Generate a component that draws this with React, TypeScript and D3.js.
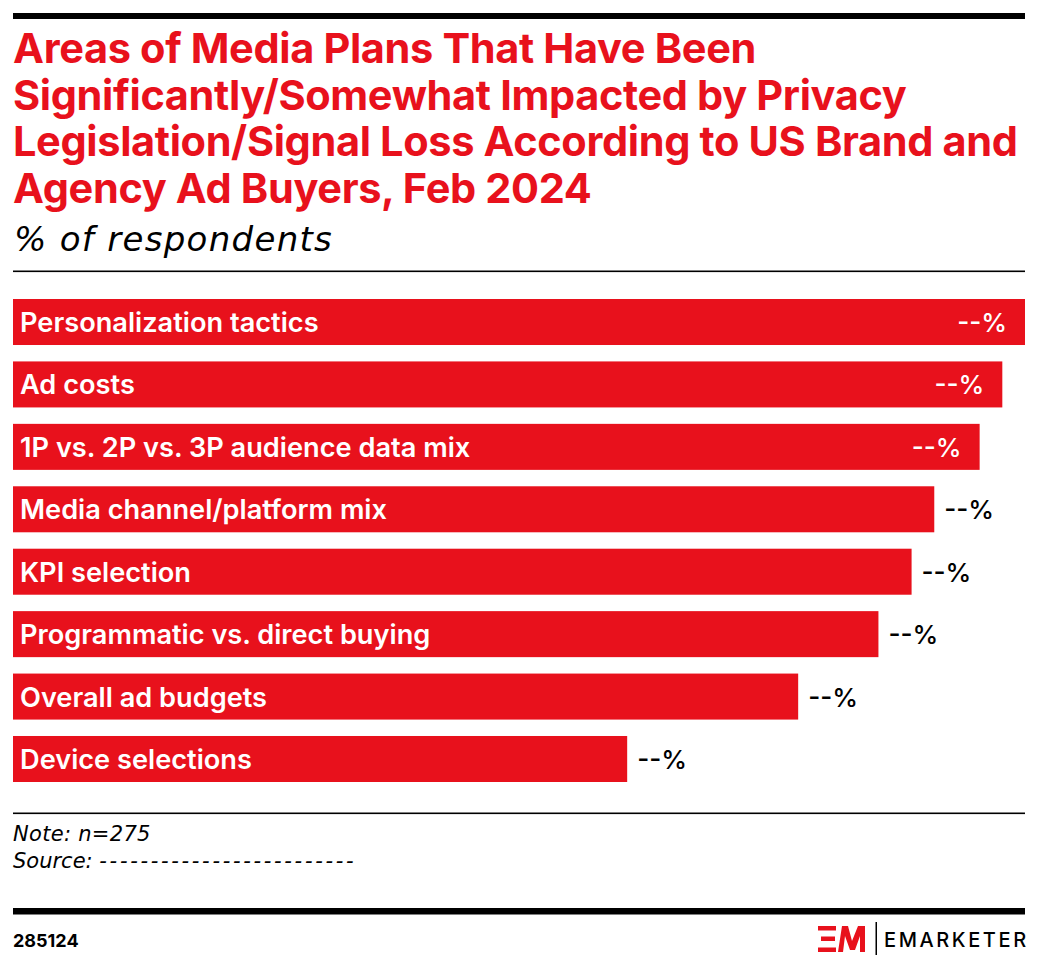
import * as d3 from "d3";

const RED = "#e8111c";

const titleLines = [
  "Areas of Media Plans That Have Been",
  "Significantly/Somewhat Impacted by Privacy",
  "Legislation/Signal Loss According to US Brand and",
  "Agency Ad Buyers, Feb 2024",
];
const subtitle = "% of respondents";

const categories = [
  "Personalization tactics",
  "Ad costs",
  "1P vs. 2P vs. 3P audience data mix",
  "Media channel/platform mix",
  "KPI selection",
  "Programmatic vs. direct buying",
  "Overall ad budgets",
  "Device selections",
];
// values are hidden in the published chart ("--%"), bar lengths estimated
const values = [58.0, 56.7, 55.4, 52.8, 51.5, 49.6, 45.0, 35.2];
const valueLabels = ["--%", "--%", "--%", "--%", "--%", "--%", "--%", "--%"];

const note = "Note: n=275";
const sourceLabel = "Source: ";
const sourceText = "-------------------------";
const chartId = "285124";

const W = 1038;
const H = 969;
const LEFT = 13;
const RIGHT = 1025;

const App = () => {
  const x = d3
    .scaleLinear()
    .domain([0, d3.max(values) as number])
    .range([0, RIGHT - LEFT]);
  const y = d3
    .scaleBand<string>()
    .domain(categories)
    .range([299, 782])
    .paddingInner(0.263);

  const labelW = 50;

  return (
    <svg
      width={W}
      height={H}
      viewBox={`0 0 ${W} ${H}`}
      style={{ position: "absolute", left: 0, top: 0, background: "#fff" }}
    >
      <rect x={LEFT} y={13} width={RIGHT - LEFT} height={6} fill="#000" />

      {titleLines.map((t, i) => (
        <text
          key={i}
          x={LEFT}
          y={63 + i * 46.7}
          fill={RED}
          fontFamily="Inter"
          fontWeight={700}
          fontSize={41.5}
          letterSpacing={-0.35}
        >
          {t}
        </text>
      ))}
      <text
        x={LEFT + 1}
        y={251}
        fill="#000"
        fontFamily="DejaVu Sans"
        fontStyle="italic"
        fontWeight={400}
        fontSize={34}
        letterSpacing={1.3}
      >
        {subtitle}
      </text>
      <rect x={LEFT} y={270.5} width={RIGHT - LEFT} height={1.6} fill="#000" />

      {categories.map((c, i) => {
        const y0 = y(c) as number;
        const w = x(values[i]);
        const inside = w + 10 + labelW > RIGHT - LEFT;
        return (
          <g key={c}>
            <rect x={LEFT} y={y0} width={w} height={y.bandwidth()} fill={RED} />
            <text
              x={LEFT + 7}
              y={y0 + 33}
              fill="#fff"
              fontFamily="Inter"
              fontWeight={600}
              fontSize={27.2}
            >
              {c}
            </text>
            <text
              x={inside ? LEFT + w - 18 : LEFT + w + 10}
              y={y0 + 33}
              textAnchor={inside ? "end" : "start"}
              fill={inside ? "#fff" : "#000"}
              fontFamily="Inter"
              fontWeight={500}
              fontSize={26}
            >
              {valueLabels[i]}
            </text>
          </g>
        );
      })}

      <rect x={LEFT} y={812.5} width={RIGHT - LEFT} height={1.6} fill="#000" />
      <g fill="#000" fontFamily="DejaVu Sans" fontStyle="italic" fontSize={21}>
        <text x={LEFT} y={841} letterSpacing={0.3}>
          {note}
        </text>
        <text x={LEFT} y={868}>
          {sourceLabel}
          <tspan letterSpacing={2.7}>{sourceText}</tspan>
        </text>
      </g>

      <rect x={LEFT} y={908} width={RIGHT - LEFT} height={6.5} fill="#000" />
      <text
        x={LEFT}
        y={947}
        fill="#000"
        fontFamily="Inter"
        fontWeight={700}
        fontSize={18}
      >
        {chartId}
      </text>

      {/* logo */}
      <g fill={RED}>
        <rect x={818} y={926} width={18} height={4.5} />
        <rect x={821} y={936.5} width={14} height={4.5} />
        <rect x={818} y={947.5} width={18} height={4.5} />
        <polygon points="838,952 842,926 848,926 852,941 858,926 865,926 865,952 860,952 860,936 855,950 850,950 845,936 843,952" />
      </g>
      <rect x={875.5} y={922} width={1.5} height={33} fill="#000" />
      <text
        x={884}
        y={947}
        fill="#000"
        fontFamily="Inter"
        fontWeight={500}
        fontSize={20}
        letterSpacing={2.6}
      >
        EMARKETER
      </text>
    </svg>
  );
};

export default App;
